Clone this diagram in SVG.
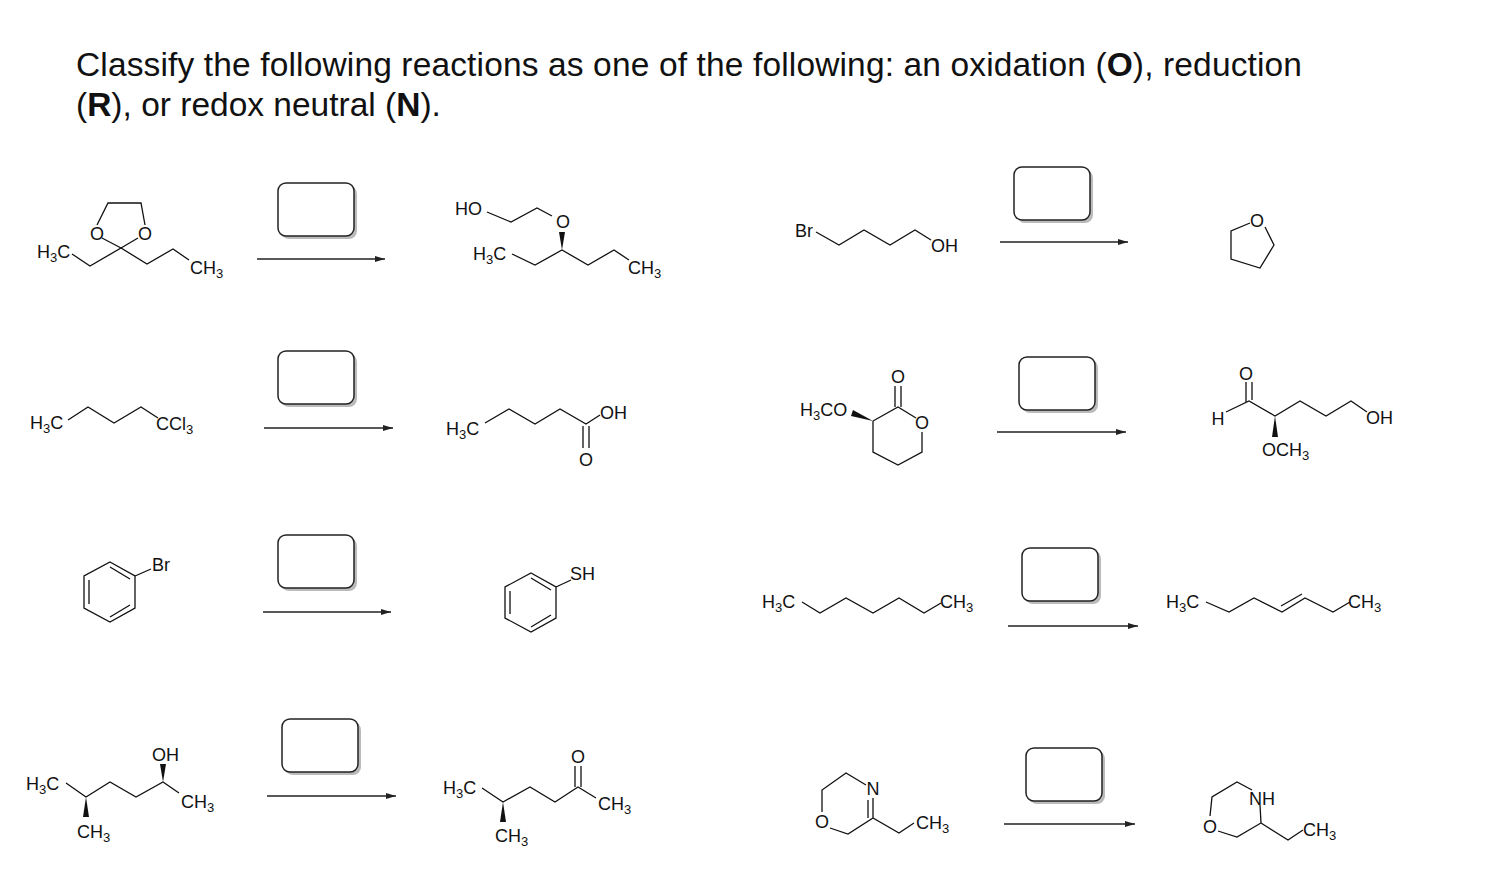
<svg xmlns="http://www.w3.org/2000/svg" width="1499" height="891" viewBox="0 0 1499 891">
<defs>
<marker id="ah" markerWidth="10" markerHeight="6" refX="10" refY="3" orient="auto" markerUnits="userSpaceOnUse"><path d="M0,0 L10,3 L0,6 z" fill="#222"/></marker>
</defs>
<style>
.b{fill:none;stroke:#111;stroke-width:1.3}
.w{fill:#111}
.t{font-family:"Liberation Sans",Arial,sans-serif;font-size:18px;fill:#111}
.s{font-size:13px}
.box{fill:#fff;stroke:#222;stroke-width:1.5}
.sh{fill:#bbb}
.ar{stroke:#222;stroke-width:1.3;marker-end:url(#ah)}
.title{font-family:"Liberation Sans",Arial,sans-serif;font-size:33.5px;fill:#111}
</style>
<rect width="1499" height="891" fill="#fff"/>
<text class="title" x="76" y="76" textLength="1226" lengthAdjust="spacing">Classify the following reactions as one of the following: an oxidation (<tspan font-weight="bold">O</tspan>), reduction</text>
<text class="title" x="76" y="116">(<tspan font-weight="bold">R</tspan>), or redox neutral (<tspan font-weight="bold">N</tspan>).</text>

<g id="boxes">
<rect class="sh" x="281" y="186" width="76" height="53" rx="8"/><rect class="box" x="278" y="183" width="76" height="53" rx="8"/>
<rect class="sh" x="281" y="354" width="76" height="53" rx="8"/><rect class="box" x="278" y="351" width="76" height="53" rx="8"/>
<rect class="sh" x="281" y="538" width="76" height="53" rx="8"/><rect class="box" x="278" y="535" width="76" height="53" rx="8"/>
<rect class="sh" x="285" y="722" width="76" height="53" rx="8"/><rect class="box" x="282" y="719" width="76" height="53" rx="8"/>
<rect class="sh" x="1017" y="170" width="76" height="53" rx="8"/><rect class="box" x="1014" y="167" width="76" height="53" rx="8"/>
<rect class="sh" x="1022" y="360" width="76" height="53" rx="8"/><rect class="box" x="1019" y="357" width="76" height="53" rx="8"/>
<rect class="sh" x="1025" y="551" width="76" height="53" rx="8"/><rect class="box" x="1022" y="548" width="76" height="53" rx="8"/>
<rect class="sh" x="1029" y="751" width="76" height="53" rx="8"/><rect class="box" x="1026" y="748" width="76" height="53" rx="8"/>
</g>

<g id="connectors">
<line class="ar" x1="257" y1="259" x2="385" y2="259"/>
<line class="ar" x1="264" y1="428" x2="393" y2="428"/>
<line class="ar" x1="263" y1="612" x2="391" y2="612"/>
<line class="ar" x1="267" y1="796" x2="396" y2="796"/>
<line class="ar" x1="1000" y1="242" x2="1128" y2="242"/>
<line class="ar" x1="997" y1="432" x2="1126" y2="432"/>
<line class="ar" x1="1008" y1="626" x2="1138" y2="626"/>
<line class="ar" x1="1004" y1="824" x2="1135" y2="824"/>
</g>

<g id="r1a">
<path class="b" d="M72,254 L90,266 L121,248 L147,264 L173,249 L189,260"/>
<path class="b" d="M121,248 L102,238 M121,248 L138,238 M97,225 L108,203 L141,203 L145,225"/>
<text class="t" x="37" y="258">H<tspan class="s" dy="4">3</tspan><tspan dy="-4">C</tspan></text>
<text class="t" x="97" y="240" text-anchor="middle">O</text>
<text class="t" x="145" y="240" text-anchor="middle">O</text>
<text class="t" x="190" y="274">CH<tspan class="s" dy="4">3</tspan></text>
</g>
<g id="r1b">
<text class="t" x="455" y="215">HO</text>
<path class="b" d="M487,212 L511,222 L537,208 L552,216"/>
<text class="t" x="556" y="228">O</text>
<path class="w" d="M559,232 L565,232 L562,250 z"/>
<path class="b" d="M512,254 L535,265 L562,250 L588,265 L614,250 L629,260"/>
<text class="t" x="473" y="260">H<tspan class="s" dy="4">3</tspan><tspan dy="-4">C</tspan></text>
<text class="t" x="628" y="274">CH<tspan class="s" dy="4">3</tspan></text>
</g>

<g id="r2a">
<text class="t" x="30" y="429">H<tspan class="s" dy="4">3</tspan><tspan dy="-4">C</tspan></text>
<path class="b" d="M68,420 L88,407 L114,423 L141,407 L158,418"/>
<text class="t" x="156" y="430">CCl<tspan class="s" dy="4">3</tspan></text>
</g>
<g id="r2b">
<text class="t" x="446" y="435">H<tspan class="s" dy="4">3</tspan><tspan dy="-4">C</tspan></text>
<path class="b" d="M485,423 L509,409 L535,424 L560,409 L586,424 L600,415"/>
<path class="b" d="M583,426 L583,448 M589,426 L589,448"/>
<text class="t" x="600" y="419">OH</text>
<text class="t" x="586" y="466" text-anchor="middle">O</text>
</g>

<g id="r3a">
<path class="b" d="M110,562 L135,576 L135,608 L110,622 L84,608 L84,576 Z"/>
<path class="b" d="M110,567 L130,579 M130,605 L110,617 M89,580 L89,604"/>
<path class="b" d="M135,576 L151,569"/>
<text class="t" x="152" y="571">Br</text>
</g>
<g id="r3b">
<path class="b" d="M531,573 L556,587 L556,618 L531,632 L505,618 L505,587 Z"/>
<path class="b" d="M531,578 L551,590 M551,615 L531,627 M510,591 L510,614"/>
<path class="b" d="M556,587 L571,580"/>
<text class="t" x="570" y="580">SH</text>
</g>

<g id="r4a">
<text class="t" x="26" y="790">H<tspan class="s" dy="4">3</tspan><tspan dy="-4">C</tspan></text>
<path class="b" d="M66,783 L86,797 L110,782 L136,797 L163,782 L179,793"/>
<path class="w" d="M86,797 L83,817 L89,817 z"/>
<path class="w" d="M163,782 L160,764 L166,764 z"/>
<text class="t" x="152" y="761">OH</text>
<text class="t" x="77" y="838">CH<tspan class="s" dy="4">3</tspan></text>
<text class="t" x="181" y="808">CH<tspan class="s" dy="4">3</tspan></text>
</g>
<g id="r4b">
<text class="t" x="443" y="794">H<tspan class="s" dy="4">3</tspan><tspan dy="-4">C</tspan></text>
<path class="b" d="M482,788 L503,802 L530,787 L555,802 L578,787 L596,798"/>
<path class="w" d="M503,802 L500,822 L506,822 z"/>
<path class="b" d="M575,787 L575,766 M581,787 L581,766"/>
<text class="t" x="578" y="763" text-anchor="middle">O</text>
<text class="t" x="495" y="842">CH<tspan class="s" dy="4">3</tspan></text>
<text class="t" x="598" y="810">CH<tspan class="s" dy="4">3</tspan></text>
</g>

<g id="r5a">
<text class="t" x="795" y="237">Br</text>
<path class="b" d="M816,232 L839,245 L864,230 L890,245 L915,230 L931,240"/>
<text class="t" x="931" y="252">OH</text>
</g>
<g id="r5b">
<text class="t" x="1257" y="227" text-anchor="middle">O</text>
<path class="b" d="M1265,227 L1274,245 L1260,268 L1231,259 L1231,231 L1250,223"/>
</g>

<g id="r6a">
<text class="t" x="800" y="416">H<tspan class="s" dy="4">3</tspan><tspan dy="-4">CO</tspan></text>
<path class="w" d="M853,410 L873,421 L851,416 z"/>
<path class="b" d="M873,421 L898,407 L916,418 M873,421 L873,452 L898,465 L922,452 L922,432"/>
<path class="b" d="M895,407 L895,386 M901,407 L901,386"/>
<text class="t" x="898" y="383" text-anchor="middle">O</text>
<text class="t" x="922" y="429" text-anchor="middle">O</text>
</g>
<g id="r6b">
<text class="t" x="1218" y="425" text-anchor="middle">H</text>
<path class="b" d="M1226,412 L1249,401 L1275,416 L1300,401 L1326,416 L1351,401 L1367,412"/>
<path class="b" d="M1246,402 L1246,382 M1252,400 L1252,382"/>
<text class="t" x="1246" y="380" text-anchor="middle">O</text>
<path class="w" d="M1275,416 L1272,437 L1278,437 z"/>
<text class="t" x="1262" y="456">OCH<tspan class="s" dy="4">3</tspan></text>
<text class="t" x="1366" y="424">OH</text>
</g>

<g id="r7a">
<text class="t" x="762" y="608">H<tspan class="s" dy="4">3</tspan><tspan dy="-4">C</tspan></text>
<path class="b" d="M802,602 L820,613 L846,598 L873,613 L899,598 L924,613 L941,603"/>
<text class="t" x="940" y="608">CH<tspan class="s" dy="4">3</tspan></text>
</g>
<g id="r7b">
<text class="t" x="1166" y="608">H<tspan class="s" dy="4">3</tspan><tspan dy="-4">C</tspan></text>
<path class="b" d="M1206,602 L1229,612 L1254,598 L1282,612 L1305,598 L1333,612 L1350,602"/>
<path class="b" d="M1281,606 L1302,594"/>
<text class="t" x="1348" y="608">CH<tspan class="s" dy="4">3</tspan></text>
</g>

<g id="r8a">
<path class="b" d="M822,812 L822,790 L846,773 L866,785 M873,798 L873,818 M868,800 L868,818 M830,828 L848,834 L873,818 L899,833 L914,823"/>
<text class="t" x="873" y="795" text-anchor="middle">N</text>
<text class="t" x="822" y="828" text-anchor="middle">O</text>
<text class="t" x="916" y="829">CH<tspan class="s" dy="4">3</tspan></text>
</g>
<g id="r8b">
<path class="b" d="M1210,816 L1212,797 L1237,782 L1252,790 M1260,805 L1261,823 L1237,837 L1218,831 M1261,823 L1288,840 L1303,830"/>
<text class="t" x="1249" y="805">NH</text>
<text class="t" x="1210" y="833" text-anchor="middle">O</text>
<text class="t" x="1303" y="836">CH<tspan class="s" dy="4">3</tspan></text>
</g>
</svg>
